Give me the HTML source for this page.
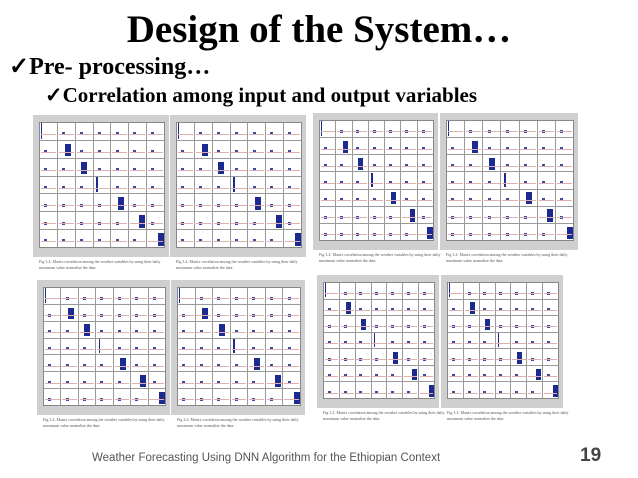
<!DOCTYPE html>
<html><head><meta charset="utf-8"><style>
body{margin:0;width:638px;height:478px;background:#fff;position:relative;overflow:hidden;font-family:"Liberation Serif",serif}
.t{position:absolute;font-weight:bold;color:#000}
.p{position:absolute;background:#cfcfcf}
.g{position:absolute;display:grid;grid-template-columns:repeat(7,1fr);grid-template-rows:repeat(7,1fr);gap:1px;background:#9a9a9a;border:1px solid #888}
.c{background:#fff;position:relative;overflow:hidden}
.c::after{content:"";position:absolute;left:5%;right:5%;top:65%;border-top:1px solid #e0b0b0}
.d{position:absolute;left:25%;top:55%;width:3px;height:3px;background:#3a4aa0}
.h{position:absolute;bottom:8%;background:#1a2a90}
.cap{position:absolute;font-size:4px;line-height:6px;color:#555}
</style></head><body>
<div class="t" style="left:0;width:638px;text-align:center;top:7px;font-size:39px">Design of the System…</div>
<div class="t" style="left:9px;top:52px;font-size:24px">✓Pre- processing…</div>
<div class="t" style="left:45px;top:83px;font-size:21px">✓Correlation among input and output variables</div>
<div id="panels"></div>
<div style="position:absolute;left:92px;top:452px;font-family:'Liberation Sans',sans-serif;font-size:11.5px;color:#555">Weather Forecasting Using DNN Algorithm for the Ethiopian Context</div>
<div style="position:absolute;left:580px;top:445px;font-family:'Liberation Sans',sans-serif;font-size:19px;font-weight:bold;color:#444">19</div>
<script>
const boxes=[[33,115,136,142],[170,115,136,142],[313,113,125,137],[440,113,138,137],[37,280,133,135],[171,280,134,135],[317,275,122,133],[441,275,122,133]];
const pos=[0.05,0.55,0.45,0.2,0.5,0.75,0.85];
const host=document.getElementById('panels');
boxes.forEach((b,i)=>{
 const p=document.createElement('div');p.className='p';
 
 
 p.style.cssText=`left:${b[0]}px;top:${b[1]}px;width:${b[2]}px;height:${b[3]}px`;
 const g=document.createElement('div');g.className='g';
 g.style.cssText=`left:6px;top:7px;right:4px;bottom:9px`;
 for(let r=0;r<7;r++)for(let c=0;c<7;c++){
  const d=document.createElement('div');d.className='c';
  if(r===c){const h=document.createElement('div');h.className='h';
   const thin=r===0||r===3;
   h.style.cssText=`left:${pos[r]*75}%;width:${thin?10:35}%;height:${thin?90:75}%`;d.appendChild(h);}
  else{const s=document.createElement('div');s.className='d';d.appendChild(s);}
  g.appendChild(d);}
 p.appendChild(g);host.appendChild(p);
 const cap=document.createElement('div');cap.className='cap';
 
 
 cap.style.cssText=`left:${b[0]+6}px;top:${b[1]+b[3]+2}px;width:${b[2]}px`;
 cap.textContent='Fig 3.2: Matrix correlation among the weather variables by using their daily maximum value normalize the data';
 host.appendChild(cap);
});
</script>
</body></html>
